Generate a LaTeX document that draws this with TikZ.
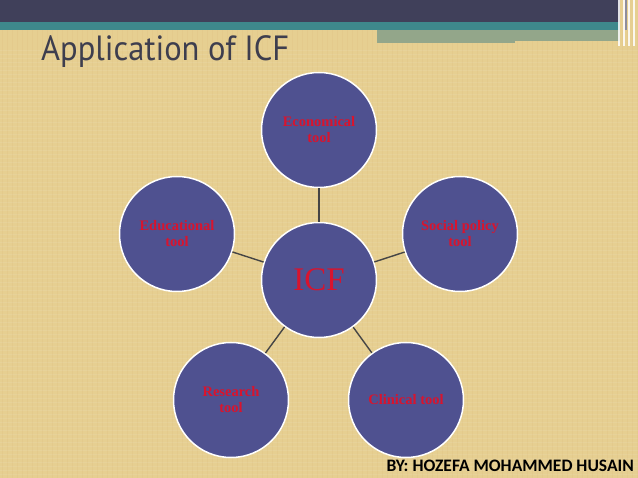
\documentclass[tikz,border=0pt]{standalone}
\usepackage{fontspec}
\setmainfont{Liberation Serif}
\newfontfamily\titlefont{PT Sans}
\newfontfamily\byfont{Carlito}
\definecolor{bgtan}{HTML}{E6CF91}
\definecolor{darkbar}{HTML}{40405A}
\definecolor{tealbar}{HTML}{3E888C}
\definecolor{greenrect}{HTML}{93A68A}
\definecolor{titlegray}{HTML}{3E3E4E}
\definecolor{circfill}{HTML}{4F5190}
\definecolor{labred}{HTML}{D8142E}
\definecolor{linkgray}{HTML}{454545}
\tikzset{
  toolcircle/.style={circle, fill=circfill, draw=white, line width=1.5pt, minimum size=115pt, inner sep=0pt,
    text=labred, font=\bfseries\fontsize{14.5}{16}\selectfont, align=center},
  hubcircle/.style={toolcircle, font=\fontsize{33}{35}\selectfont},
  link/.style={draw=linkgray, line width=1.4pt}
}
\begin{document}
\begin{tikzpicture}[x=1pt,y=-1pt]
\useasboundingbox (0,0) rectangle (638,478);
\fill[bgtan] (0,0) rectangle (638,478);
% faint texture
\foreach \yy in {50,54,...,478} \draw[white, opacity=0.08, line width=0.8pt] (0,\yy) -- (638,\yy);
\foreach \xx in {2,7,...,638} \draw[brown, opacity=0.05, line width=0.8pt] (\xx,30) -- (\xx,478);
% header bars
\fill[darkbar] (0,0) rectangle (620,22);
\fill[tealbar] (0,22) rectangle (620,30);
\fill[greenrect] (377,30) rectangle (515,43);
\fill[greenrect] (515,30) rectangle (620,41);
\foreach \xx in {618,623,628,633} \fill[white, opacity=0.85] (\xx,0) rectangle ++(1.6,46);
\fill[darkbar!60!white] (624.6,0) rectangle (627,30);
% title
\node[anchor=base west, inner sep=0pt, text=titlegray, font=\titlefont\fontsize{35}{37}\selectfont] (title) at (41,61) {\scalebox{0.93}[1]{Application of ICF}};
% circles
\node[hubcircle] (icf) at (319,280) {ICF};
\node[toolcircle] (eco) at (319,130) {Economical\\tool};
\node[toolcircle] (soc) at (460,234) {Social policy\\tool};
\node[toolcircle] (cli) at (406,400) {Clinical tool};
\node[toolcircle] (res) at (231,400) {Research\\tool};
\node[toolcircle] (edu) at (177,234) {Educational\\tool};
\foreach \t in {eco,soc,cli,res,edu} \draw[link] (icf) -- (\t);
% byline
\node[anchor=base east, inner sep=0pt, font=\byfont\bfseries\fontsize{17.5}{18}\selectfont, text=black] (by) at (634,472) {BY: HOZEFA MOHAMMED HUSAIN};
\end{tikzpicture}
\end{document}
